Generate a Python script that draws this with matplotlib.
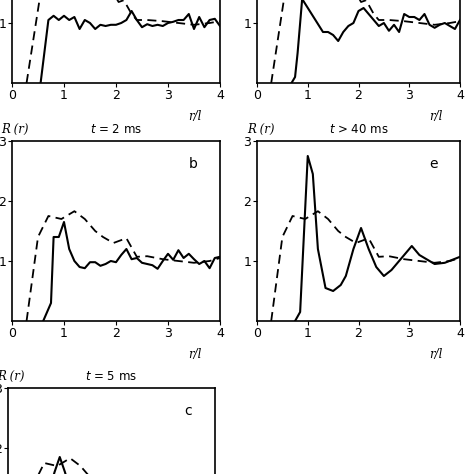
import matplotlib.pyplot as plt
import numpy as np

# dashed reference curve (middle and bottom panels)
ref_x = [0.28, 0.5, 0.7, 0.95, 1.2, 1.4, 1.6, 1.75, 1.95, 2.2, 2.4, 2.6, 2.9, 3.2, 3.5, 3.8, 4.0]
ref_y = [0.0, 1.4, 1.75, 1.7, 1.83, 1.7, 1.5, 1.4, 1.3, 1.38, 1.07, 1.08, 1.03, 1.0, 0.97, 1.0, 1.05]

# dashed curve of the top panels (mostly above the visible part)
top_ref_x = [0.28, 0.55, 0.8, 1.2, 1.6, 1.95, 2.05, 2.15, 2.3, 2.4, 2.6, 2.9, 3.2, 3.5, 3.8, 4.0]
top_ref_y = [0.0, 1.5, 1.9, 2.1, 1.8, 1.5, 1.35, 1.38, 1.15, 1.05, 1.05, 1.03, 1.0, 0.97, 1.0, 1.03]

# top left
a_x = [0.55, 0.7, 0.8, 0.9, 1.0, 1.1, 1.2, 1.3, 1.4, 1.5, 1.6, 1.7, 1.8, 1.9, 2.0, 2.1, 2.2, 2.3, 2.4,
       2.5, 2.6, 2.7, 2.8, 2.9, 3.0, 3.1, 3.2, 3.3, 3.4, 3.5, 3.6, 3.7, 3.8, 3.9, 4.0]
a_y = [0.0, 1.05, 1.12, 1.05, 1.12, 1.05, 1.1, 0.9, 1.05, 1.0, 0.9, 0.97, 0.95, 0.97, 0.97, 1.0, 1.05,
       1.2, 1.05, 0.93, 0.98, 0.95, 0.97, 0.95, 1.0, 1.02, 1.05, 1.05, 1.15, 0.9, 1.1, 0.93, 1.05, 1.07, 0.95]

# top right
d_x = [0.68, 0.75, 0.8, 0.9, 1.0, 1.1, 1.2, 1.3, 1.4, 1.5, 1.6, 1.7, 1.8, 1.9, 2.0, 2.1, 2.2, 2.3, 2.4,
       2.5, 2.6, 2.7, 2.8, 2.9, 3.0, 3.1, 3.2, 3.3, 3.4, 3.5, 3.6, 3.7, 3.8, 3.9, 4.0]
d_y = [0.0, 0.1, 0.5, 1.5, 2.3, 1.9, 1.4, 0.85, 0.85, 0.8, 0.7, 0.85, 0.95, 1.0, 1.2, 1.25, 1.15, 1.05,
       0.95, 1.0, 0.87, 0.97, 0.85, 1.15, 1.1, 1.1, 1.05, 1.15, 0.97, 0.92, 0.97, 1.0, 0.95, 0.9, 1.05]

# t = 2 ms
b_x = [0.6, 0.75, 0.8, 0.9, 1.0, 1.1, 1.2, 1.3, 1.4, 1.5, 1.6, 1.7, 1.8, 1.9, 2.0, 2.1, 2.2, 2.3, 2.4,
       2.5, 2.6, 2.7, 2.8, 2.9, 3.0, 3.1, 3.2, 3.3, 3.4, 3.5, 3.6, 3.7, 3.8, 3.9, 4.0]
b_y = [0.0, 0.3, 1.4, 1.4, 1.65, 1.2, 1.0, 0.9, 0.88, 0.98, 0.98, 0.92, 0.95, 1.0, 0.98, 1.1, 1.2, 1.03,
       1.05, 0.97, 0.95, 0.93, 0.87, 1.0, 1.12, 1.02, 1.18, 1.05, 1.12, 1.03, 0.95, 1.0, 0.88, 1.05, 1.07]

# t > 40 ms
e_x = [0.75, 0.85, 1.0, 1.1, 1.2, 1.35, 1.5, 1.65, 1.75, 1.9, 2.05, 2.2, 2.35, 2.5, 2.65, 2.9, 3.05, 3.2,
       3.5, 3.7, 4.0]
e_y = [0.0, 0.15, 2.75, 2.45, 1.2, 0.55, 0.5, 0.6, 0.75, 1.2, 1.55, 1.2, 0.9, 0.75, 0.85, 1.1, 1.25, 1.1,
       0.95, 0.97, 1.07]

# t = 5 ms
c_x = [0.65, 0.8, 0.9, 1.0, 1.1, 1.2, 1.35, 1.5]
c_y = [0.0, 1.3, 1.6, 1.85, 1.6, 1.3, 1.1, 1.0]

fig = plt.figure(figsize=(4.74, 4.74), dpi=100)
W = 474.0

def panel(l, r, top, bot, sx, sy, title, letter, rx=ref_x, ry=ref_y):
    ax = fig.add_axes([l / W, 1 - bot / W, (r - l) / W, (bot - top) / W])
    ax.plot(rx, ry, 'k--', lw=1.3, dashes=(5, 3))
    ax.plot(sx, sy, 'k-', lw=1.5)
    ax.set_xlim(0, 4)
    ax.set_ylim(0, 3)
    ax.set_xticks([0, 1, 2, 3, 4])
    ax.set_yticks([1, 2, 3])
    ax.tick_params(labelsize=9, length=3, pad=1)
    for s in ax.spines.values():
        s.set_linewidth(1.2)
    if title:
        ax.text(0.5, 1.03, title, transform=ax.transAxes, ha='center', va='bottom', fontsize=8.5)
        ax.text(-0.05, 1.03, 'R (r)', transform=ax.transAxes, ha='left', va='bottom',
                fontsize=8.5, style='italic', family='DejaVu Serif')
    if letter:
        ax.text(0.87, 0.85, letter, transform=ax.transAxes, ha='center', fontsize=10)
    ax.text(0.88, -0.15, 'r/l', transform=ax.transAxes, ha='center', va='top',
            fontsize=8.5, style='italic', family='DejaVu Serif')
    return ax

panel(12, 220, -97, 83, a_x, a_y, None, None, top_ref_x, top_ref_y)
panel(257, 460, -97, 83, d_x, d_y, None, None, top_ref_x, top_ref_y)
panel(12, 220, 141, 321, b_x, b_y, '$t$ = 2 ms', 'b')
panel(257, 460, 141, 321, e_x, e_y, '$t$ > 40 ms', 'e')
panel(8, 215, 388, 568, c_x, c_y, '$t$ = 5 ms', 'c')

fig.savefig('out.png', dpi=100)
